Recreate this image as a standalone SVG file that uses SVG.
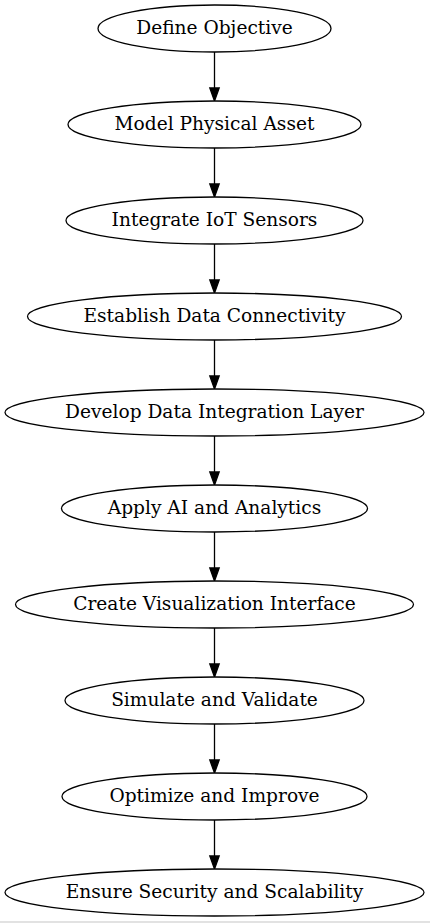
<svg xmlns="http://www.w3.org/2000/svg" width="430" height="923" viewBox="0 0 430 923">
<defs>
<style>
.n ellipse{fill:#fff;stroke:#000;stroke-width:1.3}
.n text{font-family:"DejaVu Serif",serif;font-size:18.6px;text-anchor:middle;fill:#000}
.e line{stroke:#000;stroke-width:1.3}
.e polygon{fill:#000;stroke:#000;stroke-width:1.3}
</style>
</defs>
<rect x="0" y="0" width="430" height="923" fill="#fff"/>
<rect x="0" y="921" width="430" height="2" fill="#e2e2e2"/>
<g class="e" id="edges">
<line x1="214.5" y1="52" x2="214.5" y2="88"/><polygon points="209.8,88 219.2,88 214.5,101"/>
<line x1="214.5" y1="148" x2="214.5" y2="184"/><polygon points="209.8,184 219.2,184 214.5,197"/>
<line x1="214.5" y1="244" x2="214.5" y2="280"/><polygon points="209.8,280 219.2,280 214.5,293"/>
<line x1="214.5" y1="340" x2="214.5" y2="376"/><polygon points="209.8,376 219.2,376 214.5,389"/>
<line x1="214.5" y1="436" x2="214.5" y2="472"/><polygon points="209.8,472 219.2,472 214.5,485"/>
<line x1="214.5" y1="532" x2="214.5" y2="568"/><polygon points="209.8,568 219.2,568 214.5,581"/>
<line x1="214.5" y1="628" x2="214.5" y2="664"/><polygon points="209.8,664 219.2,664 214.5,677"/>
<line x1="214.5" y1="724" x2="214.5" y2="760"/><polygon points="209.8,760 219.2,760 214.5,773"/>
<line x1="214.5" y1="820" x2="214.5" y2="856"/><polygon points="209.8,856 219.2,856 214.5,869"/>
</g>
<g class="n" id="n1"><ellipse cx="214.5" cy="28.5" rx="116.5" ry="23.5"/><text x="214.5" y="34.3">Define Objective</text></g>
<g class="n" id="n2"><ellipse cx="214.5" cy="124.5" rx="146.5" ry="23.5"/><text x="214.5" y="130.3">Model Physical Asset</text></g>
<g class="n" id="n3"><ellipse cx="214.5" cy="220.5" rx="148.5" ry="23.5"/><text x="214.5" y="226.3">Integrate IoT Sensors</text></g>
<g class="n" id="n4"><ellipse cx="214.5" cy="316.5" rx="187" ry="23.5"/><text x="214.5" y="322.3">Establish Data Connectivity</text></g>
<g class="n" id="n5"><ellipse cx="214.5" cy="412.5" rx="209.5" ry="23.5"/><text x="214.5" y="418.3">Develop Data Integration Layer</text></g>
<g class="n" id="n6"><ellipse cx="214.5" cy="508.5" rx="153" ry="23.5"/><text x="214.5" y="514.3">Apply AI and Analytics</text></g>
<g class="n" id="n7"><ellipse cx="214.5" cy="604.5" rx="199" ry="23.5"/><text x="214.5" y="610.3">Create Visualization Interface</text></g>
<g class="n" id="n8"><ellipse cx="214.5" cy="700.5" rx="149.5" ry="23.5"/><text x="214.5" y="706.3">Simulate and Validate</text></g>
<g class="n" id="n9"><ellipse cx="214.5" cy="796.5" rx="152.5" ry="23.5"/><text x="214.5" y="802.3">Optimize and Improve</text></g>
<g class="n" id="n10"><ellipse cx="214.5" cy="892.5" rx="209.5" ry="23.5"/><text x="214.5" y="898.3">Ensure Security and Scalability</text></g>
</svg>
